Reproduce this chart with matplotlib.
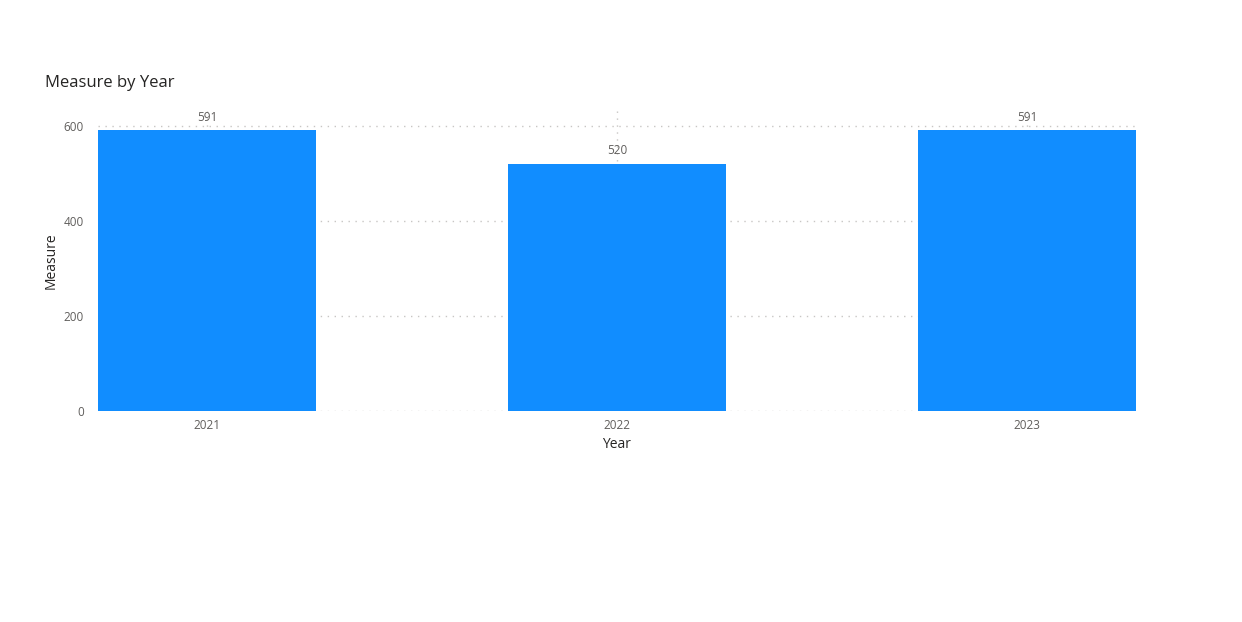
import matplotlib.pyplot as plt

years = ['2021', '2022', '2023']
measure = [591, 520, 591]
yticks = [0, 200, 400, 600]

plt.rcParams['font.family'] = ['Open Sans', 'DejaVu Sans']

fig = plt.figure(figsize=(12.42, 6.22), dpi=100)
ax = fig.add_axes([98 / 1242, 211 / 622, 1038 / 1242, 301 / 622])

x = range(len(years))
bw = 0.532
ax.bar(x, measure, width=bw, color='#118DFF', zorder=2)

for xi, v in zip(x, measure):
    ax.text(xi, v + 14, str(v), ha='center', va='bottom', fontsize=8.5, color='#605E5C')

ax.set_xlim(-bw / 2, len(years) - 1 + bw / 2)
ax.set_ylim(0, 634)
ax.set_xticks(list(x))
ax.set_xticklabels(years)
ax.set_yticks(yticks)
ax.tick_params(axis='both', length=0, labelsize=8.5, labelcolor='#605E5C')
ax.tick_params(axis='x', pad=6)
ax.tick_params(axis='y', pad=10)

ax.grid(True, linestyle=(0, (1, 4)), color='#C8C6C4', linewidth=1, zorder=0)
ax.set_axisbelow(True)
for s in ax.spines.values():
    s.set_visible(False)

ax.set_xlabel('Year', fontsize=10, color='#252423', labelpad=3)
ax.set_ylabel('Measure', fontsize=10, color='#252423', labelpad=4)

fig.text(45 / 1242, 1 - 83 / 622, 'Measure by Year', fontsize=12, color='#252423',
         ha='left', va='center')

fig.savefig('out.png', dpi=100)
